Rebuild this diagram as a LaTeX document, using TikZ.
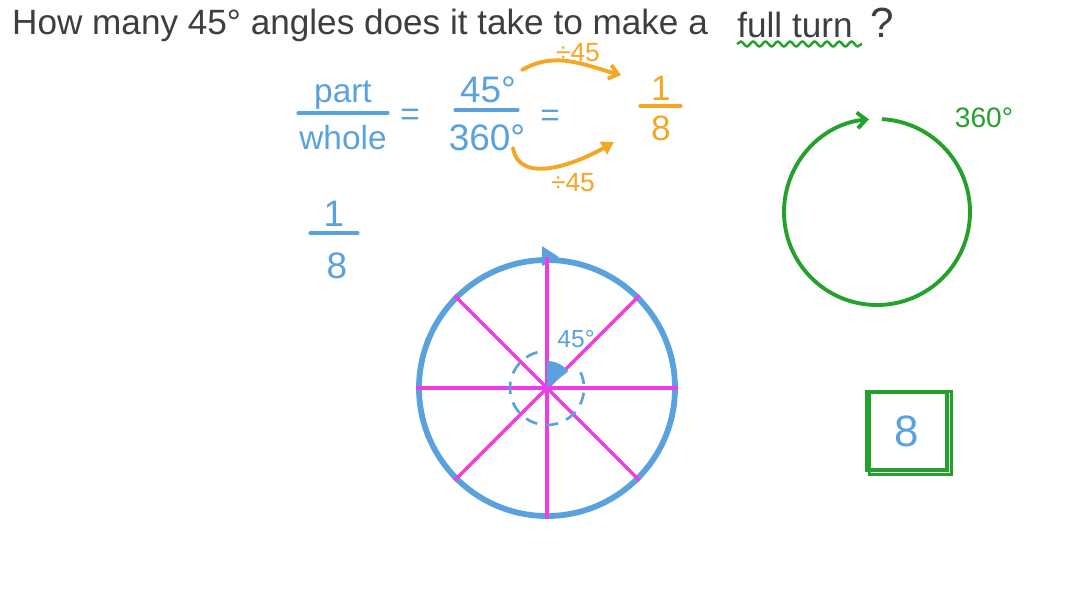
\documentclass[tikz,border=0pt]{standalone}
\usepackage{fontspec}
\setmainfont{Liberation Sans}
\usetikzlibrary{arrows.meta,decorations.pathmorphing}
\definecolor{penblue}{HTML}{5AA2DE}
\definecolor{penorange}{HTML}{F5A623}
\definecolor{penmagenta}{HTML}{F03CE4}
\definecolor{pengreen}{HTML}{23A12B}
\definecolor{pengray}{HTML}{3E3E3E}
\begin{document}
\begin{tikzpicture}[x=0.02cm, y=0.02cm,
    handblue/.style={text=penblue, font=\fontsize{19}{22}\selectfont, inner sep=1pt},
    handorange/.style={text=penorange, font=\fontsize{20}{23}\selectfont, inner sep=1pt},
    fracbar/.style={line width=1.8pt, line cap=round},
    spoke/.style={penmagenta, line width=1.9pt},
    turnarrow/.style={penorange, line width=2.2pt, line cap=round}]
  \useasboundingbox (0,0) rectangle (1088,612);

  % question
  \node[anchor=west, text=pengray, font=\fontsize{20}{23}\selectfont] (title) at (6,587) {How many 45° angles does it take to make a};
  \node[anchor=west, text=pengray, font=\fontsize{20}{23}\selectfont, inner sep=0pt] (fullturn) at (737,587) {full turn};
  \node[anchor=west, text=pengray, font=\fontsize{24}{26}\selectfont] (qmark) at (864,589) {?};
  \draw[pengreen, line width=1.4pt, decorate, decoration={snake, amplitude=1.4, segment length=7}]
    (737,568) -- (862,568);

  % part / whole
  \node[handblue] (part) at (343,517) {part};
  \node[handblue] (whole) at (343,474) {whole};
  \draw[fracbar, penblue] (298,499) -- (388,499);
  \node[handblue] (eqone) at (410,495) {=};

  \node[handblue, font=\fontsize{21}{24}\selectfont] (deg45) at (488,522) {45°};
  \node[handblue, font=\fontsize{21}{24}\selectfont] (deg360) at (487,474) {360°};
  \draw[fracbar, penblue] (455,502) -- (518,502);
  \node[handblue] (eqtwo) at (550,494) {=};

  \node[handorange] (one) at (661,524) {1};
  \node[handorange] (eight) at (661,484) {8};
  \draw[fracbar, penorange] (640,506) -- (681,506);

  % divide by 45
  \coordinate (topstart) at (522,542);
  \coordinate (topend) at (621,537);
  \coordinate (botstart) at (513,464);
  \coordinate (botend) at (614,470);
  \draw[turnarrow, -{Straight Barb[length=5pt, width=8pt]}] (topstart) to[out=30, in=165] (topend);
  \draw[turnarrow, -{Triangle[length=7pt, width=8pt]}] (botstart) to[out=-80, in=210] (botend);
  \node[text=penorange, font=\fontsize{15}{17}\selectfont] (divtop) at (578,559) {÷45};
  \node[text=penorange, font=\fontsize{15}{17}\selectfont] (divbot) at (573,429) {÷45};

  % one eighth
  \node[handblue, font=\fontsize{21}{24}\selectfont] (smallone) at (334,398) {1};
  \node[handblue, font=\fontsize{21}{24}\selectfont] (smalleight) at (337,346) {8};
  \draw[fracbar, penblue] (310,379) -- (358,379);

  % wheel cut into eighths
  \node[draw=penblue, circle, line width=3.3pt, minimum size=256*0.02cm, inner sep=0pt] (wheel) at (547,224) {};
  \fill[penblue] (wheel.north) ++(-5,11) -- ++(17,-11) -- ++(-17,-9) -- cycle;
  \foreach \a in {0,45,...,315}
    \draw[spoke] (wheel.center) -- (wheel.\a);
  \fill[penblue] (wheel.center) -- ++(90:27) arc (90:38:27) -- cycle;
  \draw[penblue, line width=1.5pt, dash pattern=on 7pt off 5pt] (wheel.center) ++(105:37) arc (105:385:37);
  \node[text=penblue, font=\fontsize{14}{16}\selectfont] (angle) at (576,273) {45°};

  % full turn
  \draw[pengreen, line width=2.2pt, -{Straight Barb[length=5pt, width=9pt]}] (877,400) ++(87:93) arc (87:-265:93);
  \node[text=pengreen, font=\fontsize{16}{18}\selectfont] (full) at (984,494) {360°};

  % answer
  \node[draw=pengreen, line width=2pt, minimum width=80*0.02cm, minimum height=78*0.02cm,
        text=penblue, font=\fontsize{25}{28}\selectfont] (answer) at (907,181) {8};
  \draw[pengreen, line width=1.6pt] ([shift={(4,-3)}]answer.south west) rectangle ([shift={(3,-1)}]answer.north east);
\end{tikzpicture}
\end{document}
